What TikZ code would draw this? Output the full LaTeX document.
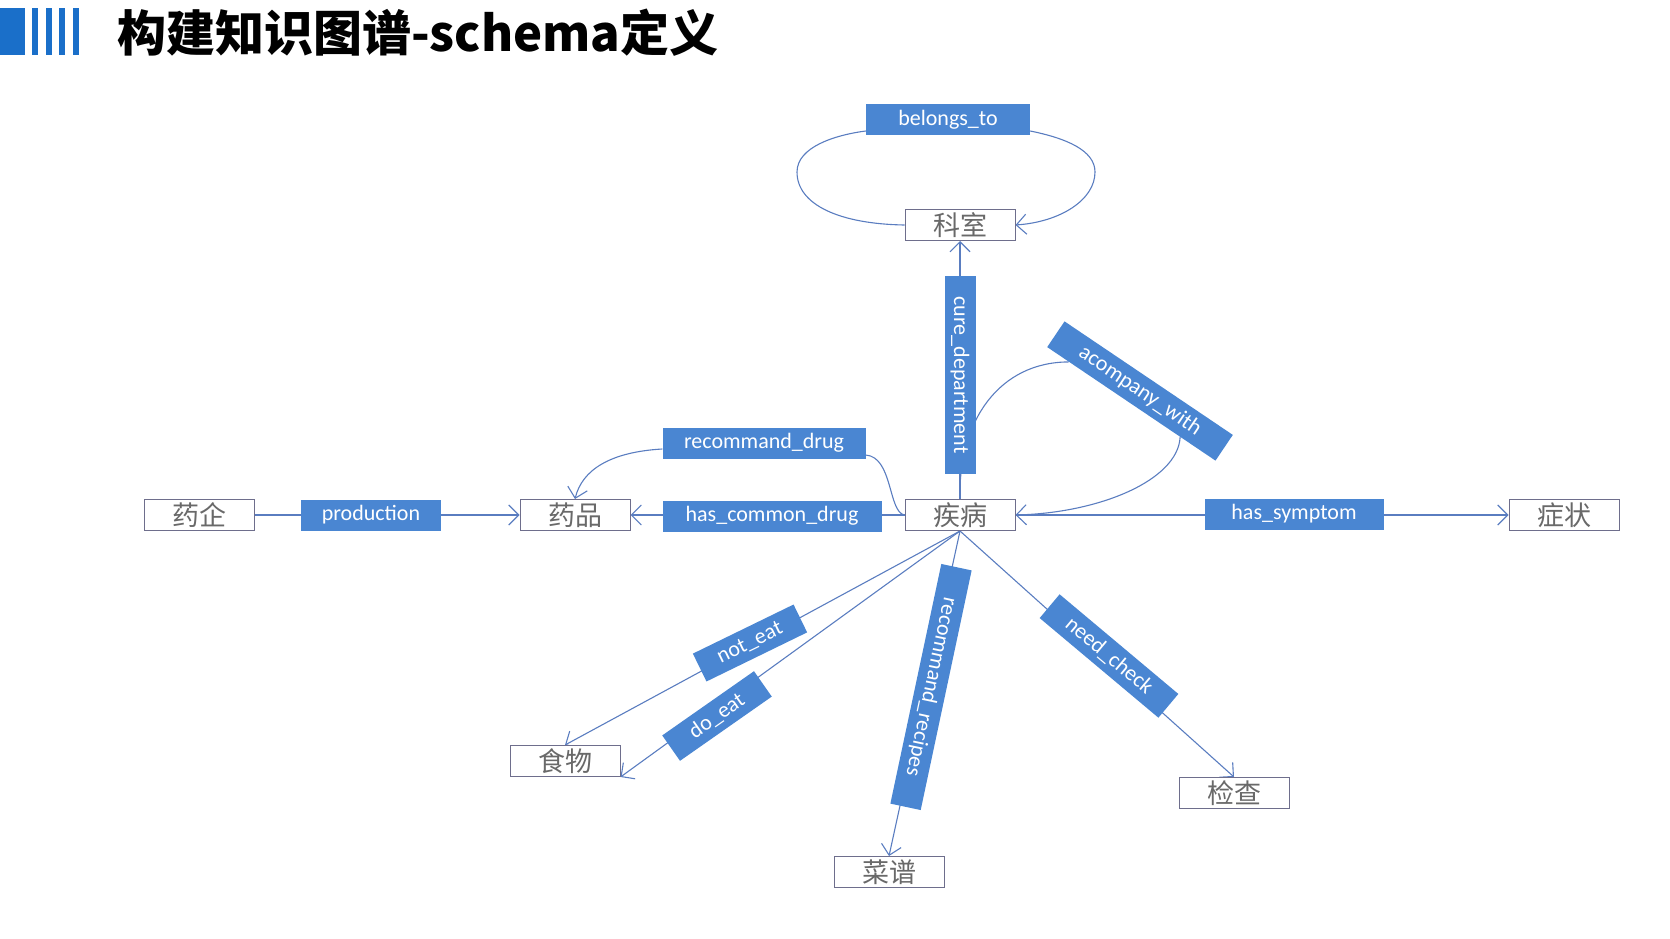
\documentclass[tikz,border=0pt]{standalone}
\usepackage{fontspec}
\setmainfont{Carlito}
\newfontfamily\cjk{Noto Sans CJK SC}
\usetikzlibrary{arrows.meta,calc}
\definecolor{lblue}{RGB}{74,134,210}
\definecolor{ecol}{RGB}{90,125,192}
\definecolor{bcol}{RGB}{110,110,140}
\definecolor{tbar}{RGB}{26,111,201}
\definecolor{ntext}{RGB}{105,105,105}
\pgfdeclarelayer{bg}
\pgfsetlayers{bg,main}
\begin{document}
\begin{tikzpicture}[x=1pt,y=-1pt,
  ent/.style={draw=bcol, line width=1pt, fill=white, minimum width=110pt, minimum height=31pt, inner sep=0pt, font=\cjk\fontsize{27}{27}\selectfont, text=ntext},
  rel/.style={fill=lblue, text=white, minimum height=31pt, inner sep=0pt, font=\fontsize{22}{22}\selectfont},
  edge/.style={draw=ecol, line width=1.1pt},
  arr/.style={edge, -{Straight Barb[length=10pt,width=20pt]}},
  bar/.style={fill=tbar}
]
\useasboundingbox (0,0) rectangle (1670,939);
% title
\fill[bar] (0,8) rectangle (25,55);
\foreach \x in {32,45.5,59,73} \fill[bar] (\x,8) rectangle (\x+6,55);
\node[anchor=west, inner sep=0pt, font=\cjk\bfseries\fontsize{49}{49}\selectfont] (title) at (117,33) {构建知识图谱-schema定义};
% entities
\node[ent] (ks) at (960,225) {科室};
\node[ent] (dis) at (960,515) {疾病};
\node[ent] (yp) at (575,515) {药品};
\node[ent] (yq) at (199,515) {药企};
\node[ent] (zz) at (1564,515) {症状};
\node[ent] (sw) at (565,761) {食物};
\node[ent] (cp) at (889,872) {菜谱};
\node[ent] (jc) at (1234,793) {检查};
% relation labels
\node[rel, minimum width=164pt] (bt) at (948,120) {belongs\_to};
\node[rel, minimum width=198pt, rotate=-90] (cd) at (960,375) {cure\_department};
\node[rel, minimum width=203pt, rotate=-34] (aw) at (1140,391) {acompany\_with};
\node[rel, minimum width=203pt] (rd) at (764,443) {recommand\_drug};
\node[rel, minimum width=219pt] (hcd) at (772,516) {has\_common\_drug};
\node[rel, minimum width=140pt] (pr) at (371,515) {production};
\node[rel, minimum width=179pt] (hs) at (1294,514) {has\_symptom};
\node[rel, minimum width=112pt, rotate=26] (ne) at (750,643) {not\_eat};
\node[rel, minimum width=112pt, rotate=35] (de) at (717,716) {do\_eat};
\node[rel, minimum width=245pt, rotate=-102] (rr) at (931,687) {recommand\_recipes};
\node[rel, minimum width=155pt, rotate=-40] (nc) at (1109,656) {need\_check};
% connectors
\begin{pgfonlayer}{bg}
\draw[arr] (yq.east) -- (yp.west);
\draw[arr] (dis.west) -- (yp.east);
\draw[edge] (dis.west) .. controls (888,512) and (893,457) .. ([yshift=-12pt]rd.east);
\draw[arr] ([yshift=-6pt]rd.west) .. controls (610,452) and (582,470) .. (yp.north);
\draw[arr] (dis.north) -- (ks.south);
\draw[edge] (ks.west) .. controls (840,224) and (797,205) .. (797,172) .. controls (797,147) and (835,135) .. ([yshift=-11pt]bt.west);
\draw[arr] ([yshift=-11pt]bt.east) .. controls (1065,138) and (1095,150) .. (1095,172) .. controls (1095,200) and (1060,222) .. (ks.east);
\draw[edge] (dis.north) .. controls (958,420) and (1000,362) .. ($(aw.south west)!0.13!(aw.south east)$);
\draw[arr] ($(aw.south west)!0.79!(aw.south east)$) .. controls (1178,480) and (1100,513) .. (dis.east);
\draw[arr] (dis.east) -- (zz.west);
\draw[arr] (dis.south) -- (sw.north);
\draw[arr] (dis.south) -- (sw.south east);
\draw[arr] (dis.south) -- (cp.north);
\draw[arr] (dis.south) -- (jc.north);
\end{pgfonlayer}
\end{tikzpicture}
\end{document}
